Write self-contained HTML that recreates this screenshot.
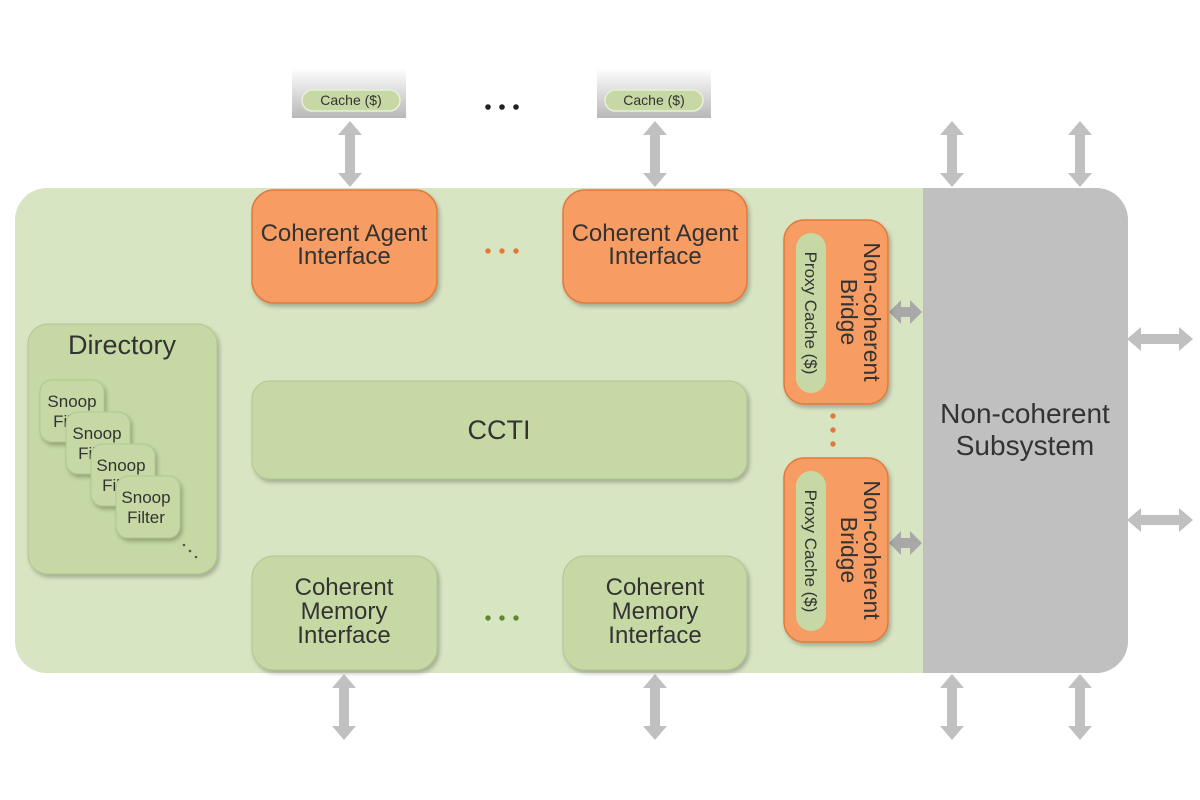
<!DOCTYPE html>
<html><head><meta charset="utf-8"><style>
html,body{margin:0;padding:0;background:#fff}
svg{display:block}
text{font-family:"Liberation Sans",sans-serif}
</style></head><body>
<svg width="1200" height="800" viewBox="0 0 1200 800" xmlns="http://www.w3.org/2000/svg">
<defs>
<linearGradient id="cg" x1="0" y1="0" x2="0" y2="1"><stop offset="0" stop-color="#ffffff"/><stop offset="1" stop-color="#b8b8b8"/></linearGradient>
<filter id="sh" x="-10%" y="-10%" width="130%" height="130%"><feDropShadow dx="2" dy="3" stdDeviation="2" flood-color="#000" flood-opacity="0.25"/></filter>
<g id="va"><polygon points="0,-33 12,-19 5,-19 5,19 12,19 0,33 -12,19 -5,19 -5,-19 -12,-19" fill="#c0c0c0"/></g>
<g id="ha"><polygon points="-33,0 -19,-12 -19,-5 19,-5 19,-12 33,0 19,12 19,5 -19,5 -19,12" fill="#c0c0c0"/></g>
</defs>
<rect x="15" y="188" width="1113" height="485" rx="32" fill="#d8e5c3"/>
<path d="M923,188 H1096 A32,32 0 0 1 1128,220 V641 A32,32 0 0 1 1096,673 H923 Z" fill="#c0c0c0"/>
<text x="1025" y="423" font-size="28" fill="#333" text-anchor="middle">Non-coherent</text>
<text x="1025" y="455" font-size="28" fill="#333" text-anchor="middle">Subsystem</text>

<rect x="292" y="68" width="114" height="50" fill="url(#cg)"/>
<rect x="302" y="90" width="98" height="21" rx="10.5" fill="#c6d9a4" stroke="#e8f0d8" stroke-width="1.5"/>
<text x="351" y="105" font-size="14" fill="#333" text-anchor="middle">Cache ($)</text>
<rect x="597" y="68" width="114" height="50" fill="url(#cg)"/>
<rect x="605" y="90" width="98" height="21" rx="10.5" fill="#c6d9a4" stroke="#e8f0d8" stroke-width="1.5"/>
<text x="654" y="105" font-size="14" fill="#333" text-anchor="middle">Cache ($)</text>
<g fill="#222"><circle cx="488" cy="107" r="2.8"/><circle cx="502" cy="107" r="2.8"/><circle cx="516" cy="107" r="2.8"/></g>

<use href="#va" x="350" y="154"/><use href="#va" x="655" y="154"/>
<use href="#va" x="952" y="154"/><use href="#va" x="1080" y="154"/>
<use href="#va" x="344" y="707"/><use href="#va" x="655" y="707"/>
<use href="#va" x="952" y="707"/><use href="#va" x="1080" y="707"/>
<use href="#ha" x="1160" y="339"/><use href="#ha" x="1160" y="520"/>
<polygon points="889,312 901,300 901,307 910,307 910,300 922,312 910,324 910,317 901,317 901,324" fill="#a8a8a8"/>
<polygon points="889,543 901,531 901,538 910,538 910,531 922,543 910,555 910,548 901,548 901,555" fill="#a8a8a8"/>

<g filter="url(#sh)">
<rect x="252" y="190" width="185" height="113" rx="22" fill="#f79c64" stroke="#e07a3c" stroke-width="1.5"/>
<rect x="563" y="190" width="184" height="113" rx="22" fill="#f79c64" stroke="#e07a3c" stroke-width="1.5"/>
<rect x="252" y="381" width="495" height="98" rx="18" fill="#c6d9a4" stroke="#b0c690" stroke-width="1"/>
<rect x="252" y="556" width="185" height="114" rx="22" fill="#c6d9a4" stroke="#b0c690" stroke-width="1"/>
<rect x="563" y="556" width="184" height="114" rx="22" fill="#c6d9a4" stroke="#b0c690" stroke-width="1"/>
<rect x="28" y="324" width="189" height="250" rx="20" fill="#c6d9a4" stroke="#b0c690" stroke-width="1"/>
<rect x="784" y="220" width="104" height="184" rx="20" fill="#f79c64" stroke="#e07a3c" stroke-width="1.5"/>
<rect x="784" y="458" width="104" height="184" rx="20" fill="#f79c64" stroke="#e07a3c" stroke-width="1.5"/>
</g>
<g font-size="24" fill="#333" text-anchor="middle">
<text x="344" y="241">Coherent Agent</text><text x="344" y="264">Interface</text>
<text x="655" y="241">Coherent Agent</text><text x="655" y="264">Interface</text>
<text x="344" y="595">Coherent</text><text x="344" y="619">Memory</text><text x="344" y="643">Interface</text>
<text x="655" y="595">Coherent</text><text x="655" y="619">Memory</text><text x="655" y="643">Interface</text>
</g>
<text x="499" y="439" font-size="27" fill="#333" text-anchor="middle">CCTI</text>
<g fill="#e07a3c"><circle cx="488" cy="251" r="2.7"/><circle cx="502" cy="251" r="2.7"/><circle cx="516" cy="251" r="2.7"/>
<circle cx="833" cy="416" r="2.7"/><circle cx="833" cy="430" r="2.7"/><circle cx="833" cy="444" r="2.7"/></g>
<g fill="#5e8a2e"><circle cx="488" cy="618" r="2.7"/><circle cx="502" cy="618" r="2.7"/><circle cx="516" cy="618" r="2.7"/></g>

<text x="122" y="354" font-size="27" fill="#333" text-anchor="middle">Directory</text>
<g filter="url(#sh)" font-size="17" fill="#333" text-anchor="middle">
<rect x="40" y="380" width="64" height="62" rx="12" fill="#c6d9a4" stroke="#b0c690"/>
<text x="72" y="407">Snoop</text><text x="72" y="427">Filter</text>
<rect x="66" y="412" width="64" height="62" rx="12" fill="#c6d9a4" stroke="#b0c690"/>
<text x="97" y="439">Snoop</text><text x="97" y="459">Filter</text>
<rect x="91" y="444" width="64" height="62" rx="12" fill="#c6d9a4" stroke="#b0c690"/>
<text x="121" y="471">Snoop</text><text x="121" y="491">Filter</text>
<rect x="116" y="476" width="64" height="62" rx="12" fill="#c6d9a4" stroke="#b0c690"/>
<text x="146" y="503">Snoop</text><text x="146" y="523">Filter</text>
</g>
<g fill="#555"><circle cx="184" cy="545" r="1.3"/><circle cx="190" cy="551" r="1.3"/><circle cx="196" cy="557" r="1.3"/></g>

<rect x="796" y="233" width="30" height="160" rx="15" fill="#c6d9a4"/>
<rect x="796" y="471" width="30" height="160" rx="15" fill="#c6d9a4"/>
<g fill="#333" font-size="23" text-anchor="middle">
<text transform="translate(841,312) rotate(90)">Bridge</text>
<text transform="translate(864,312) rotate(90)">Non-coherent</text>
<text transform="translate(841,550) rotate(90)">Bridge</text>
<text transform="translate(864,550) rotate(90)">Non-coherent</text>
</g>
<g fill="#333" font-size="17" text-anchor="middle">
<text transform="translate(805,313) rotate(90)">Proxy Cache ($)</text>
<text transform="translate(805,551) rotate(90)">Proxy Cache ($)</text>
</g>
</svg>
</body></html>
